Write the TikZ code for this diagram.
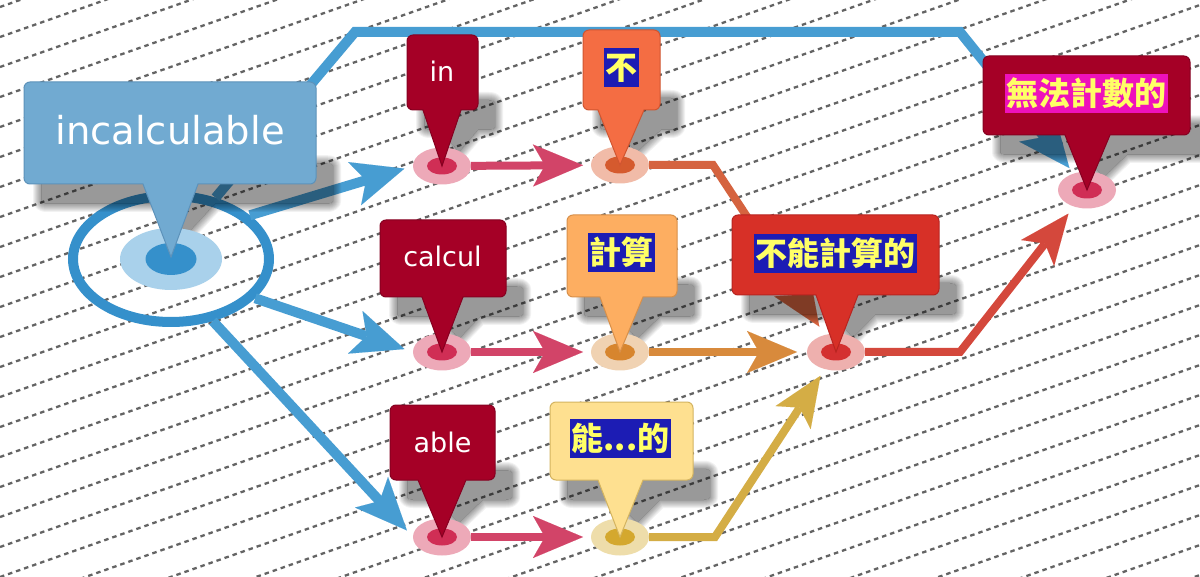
\documentclass[tikz,border=0pt]{standalone}
\usepackage{fontspec}
\setmainfont{DejaVu Sans}
\newfontfamily\cjk{Noto Sans CJK TC}
\usetikzlibrary{arrows.meta,shapes.geometric}
\definecolor{bgdash}{HTML}{646464}
\definecolor{ringblue}{HTML}{3590CB}
\definecolor{arrblue}{HTML}{479DD2}
\definecolor{coreLight}{HTML}{A9D1EB}
\definecolor{boxblue}{HTML}{71AAD1}
\definecolor{boxblueD}{HTML}{5D92BA}
\definecolor{darkred}{HTML}{A50026}
\definecolor{darkredD}{HTML}{850020}
\definecolor{orangeA}{HTML}{F46D43}
\definecolor{orangeAD}{HTML}{D05530}
\definecolor{orangeB}{HTML}{FDAE61}
\definecolor{orangeBD}{HTML}{D8904A}
\definecolor{yellowC}{HTML}{FEE090}
\definecolor{yellowCD}{HTML}{D4B460}
\definecolor{redD}{HTML}{D73027}
\definecolor{redDD}{HTML}{B82420}
\definecolor{hlblue}{HTML}{1C1CB4}
\definecolor{hlmag}{HTML}{EE11BB}
\definecolor{hltext}{HTML}{FFFF66}
\definecolor{pinkarr}{HTML}{D24468}
\definecolor{orarr}{HTML}{D5633F}
\definecolor{ortwoarr}{HTML}{D88A3C}
\definecolor{goldarr}{HTML}{D4AD45}
\definecolor{redarr}{HTML}{D4483C}
\definecolor{pinkL}{HTML}{EDA9B8}\definecolor{pinkD}{HTML}{D02E55}
\definecolor{salL}{HTML}{F1BBA8}\definecolor{salD}{HTML}{D55A2E}
\definecolor{tanL}{HTML}{F0D2B2}\definecolor{tanD}{HTML}{D7852E}
\definecolor{goldL}{HTML}{EEDDAA}\definecolor{goldD}{HTML}{D4A82E}
\definecolor{rosL}{HTML}{EEB0AE}\definecolor{rosD}{HTML}{D43030}

% callout outline: #1 x1, #2 y1, #3 x2, #4 y2, #5 base left, #6 base right, #7 tip
\newcommand\cpath[7]{(#7) -- (#6,#4) -- ({#3-6},#4) arc (90:0:6) -- (#3,{#2+6}) arc (0:-90:6) -- ({#1+6},#2) arc (-90:-180:6) -- (#1,{#4-6}) arc (180:90:6) -- (#5,#4) -- cycle}
% soft perspective shadow: #1 = bottom edge y, #2 = path
\newcommand\softshadow[2]{%
  \begin{scope}[shift={(17,{#1+20})}, yscale=0.4, shift={(0,{-#1})}]
    \fill[black, opacity=0.4] #2;
    \begin{scope}
      \clip (-2000,-2000) -- (4000,-2000) -- (4000,4000) -- (-2000,4000) -- cycle #2;
      \foreach \w in {2,4,...,16}{\draw[black, opacity=0.05, line width=\w pt, line join=round] #2;}
    \end{scope}
  \end{scope}}

\begin{document}
\begin{tikzpicture}[x=1pt,y=-1pt,
  bgline/.style={draw=bgdash, line width=2.3pt, dash pattern=on 4.5pt off 4pt},
  conn/.style={line width=8pt, -{Stealth[length=50pt,width=42pt,inset=12pt,line width=0.01pt]}},
  blueconn/.style={draw=arrblue, line width=10pt, -{Stealth[length=52pt,width=45pt,inset=12pt,line width=0.01pt]}},
  dotout/.style={ellipse, minimum width=58pt, minimum height=37pt, inner sep=0pt, outer sep=0pt},
  latin/.style={text=white, font=\fontsize{27}{32}\selectfont, inner sep=0pt, anchor=base},
  hl/.style={text=hltext, font=\cjk\bfseries\fontsize{32}{38}\selectfont, inner xsep=1.5pt, inner ysep=0pt, text height=28pt, text depth=4pt, minimum height=39pt}
]
\useasboundingbox (0,0) rectangle (1200,577);
\fill[white] (0,0) rectangle (1200,577);

% background dashed lines
\begin{scope}
  \clip (0,0) rectangle (1200,577);
  \foreach \k in {-26,...,10} {\draw[bgline] (0,{757+30*\k}) -- (1200,{757+30*\k-422});}
\end{scope}

% dot nodes (positions)
\path node[dotout] (din)  at (442,166) {}
      node[dotout] (dbu)  at (620,165) {}
      node[dotout] (dca)  at (442,352) {}
      node[dotout] (djs)  at (620,352) {}
      node[dotout] (dab)  at (442,537) {}
      node[dotout] (dnd)  at (620,537) {}
      node[dotout] (dnc)  at (836,352) {}
      node[dotout] (dwu)  at (1087,190) {};

% ring
\node[ellipse, draw=ringblue, line width=10pt, minimum width=196pt, minimum height=126pt, inner sep=0pt] (ring) at (171,259) {};

% blue connectors
\coordinate (tp1) at (355,32);
\coordinate (tp2) at (960,32);
\draw[blueconn, shorten >=7pt] (ring.54) -- (tp1) -- (tp2) -- (dwu);
\draw[blueconn, shorten >=9pt] (ring.29) -- (din.west);
\draw[blueconn, shorten >=9pt] (ring.-25) -- (dca.west);
\draw[blueconn, shorten >=9pt] (ring.-56) -- (dab.west);

% coloured connectors
\draw[conn, draw=pinkarr, shorten >=8pt] (din) -- (dbu);
\draw[conn, draw=pinkarr, shorten >=8pt] (dca) -- (djs);
\draw[conn, draw=pinkarr, shorten >=8pt] (dab) -- (dnd);
\coordinate (b1) at (713,165);
\coordinate (b2) at (715,537);
\coordinate (b3) at (960,352);
\draw[conn, draw=orarr, shorten >=10pt] (dbu) -- (b1) -- (dnc);
\draw[conn, draw=ortwoarr, shorten >=10pt] (djs) -- (dnc);
\draw[conn, draw=goldarr, shorten >=8pt] (dnd) -- (b2) -- (dnc);
\draw[conn, draw=redarr, shorten >=9pt] (dnc) -- (b3) -- (dwu);

% shadows
\softshadow{184}{\cpath{24}{82}{316}{184}{143}{198}{171,257}}
\softshadow{110}{\cpath{407}{35}{478}{110}{423}{461}{442,166}}
\softshadow{110}{\cpath{583}{30}{660}{110}{598}{644}{620,165}}
\softshadow{297}{\cpath{380}{220}{506}{297}{422}{463}{442,352}}
\softshadow{297}{\cpath{567}{215}{677}{297}{600}{643}{620,352}}
\softshadow{480}{\cpath{390}{405}{495}{480}{418}{466}{442,537}}
\softshadow{480}{\cpath{550}{402}{693}{480}{598}{643}{620,537}}
\softshadow{295}{\cpath{732}{215}{939}{295}{816}{858}{836,352}}
\softshadow{135}{\cpath{983}{56}{1190}{135}{1065}{1110}{1087,190}}

% core of ring and dots
\node[ellipse, fill=coreLight, minimum width=102pt, minimum height=62pt, inner sep=0pt] (core) at (171,259) {};
\node[ellipse, fill=ringblue, minimum width=51pt, minimum height=32pt, inner sep=0pt] (corein) at (core) {};
\foreach \n/\cl/\cd in {din/pinkL/pinkD, dca/pinkL/pinkD, dab/pinkL/pinkD, dwu/pinkL/pinkD,
                         dbu/salL/salD, djs/tanL/tanD, dnd/goldL/goldD, dnc/rosL/rosD}{
  \fill[\cl] (\n.center) ellipse [x radius=29pt, y radius=18.5pt];
  \fill[\cd] (\n.center) ellipse [x radius=15pt, y radius=8.5pt];
}

% callouts
\draw[fill=boxblue, draw=boxblueD, line width=1pt] \cpath{24}{82}{316}{184}{143}{198}{171,257};
\draw[fill=darkred, draw=darkredD, line width=1pt] \cpath{407}{35}{478}{110}{423}{461}{442,166};
\draw[fill=orangeA, draw=orangeAD, line width=1pt] \cpath{583}{30}{660}{110}{598}{644}{620,165};
\draw[fill=darkred, draw=darkredD, line width=1pt] \cpath{380}{220}{506}{297}{422}{463}{442,352};
\draw[fill=orangeB, draw=orangeBD, line width=1pt] \cpath{567}{215}{677}{297}{600}{643}{620,352};
\draw[fill=darkred, draw=darkredD, line width=1pt] \cpath{390}{405}{495}{480}{418}{466}{442,537};
\draw[fill=yellowC, draw=yellowCD, line width=1pt] \cpath{550}{402}{693}{480}{598}{643}{620,537};
\draw[fill=redD, draw=redDD, line width=1pt] \cpath{732}{215}{939}{295}{816}{858}{836,352};
\draw[fill=darkred, draw=darkredD, line width=1pt] \cpath{983}{56}{1190}{135}{1065}{1110}{1087,190};

% texts
\node[latin, font=\fontsize{38.5}{44}\selectfont] (tinc) at (170,145) {incalculable};
\node[latin] (tin) at (442,82) {in};
\node[latin] (tcal) at (442.5,267) {calcul};
\node[latin] (tabl) at (442.5,452) {able};
\node[hl, fill=hlblue] (tbu) at (621,67.5) {不};
\node[hl, fill=hlblue] (tjs) at (621,253) {計算};
\node[hl, fill=hlblue] (tnd) at (620.5,438.5) {能...的};
\node[hl, fill=hlblue] (tbn) at (835,253.5) {不能計算的};
\node[hl, fill=hlmag] (twf) at (1086.5,94) {無法計數的};
\end{tikzpicture}
\end{document}
